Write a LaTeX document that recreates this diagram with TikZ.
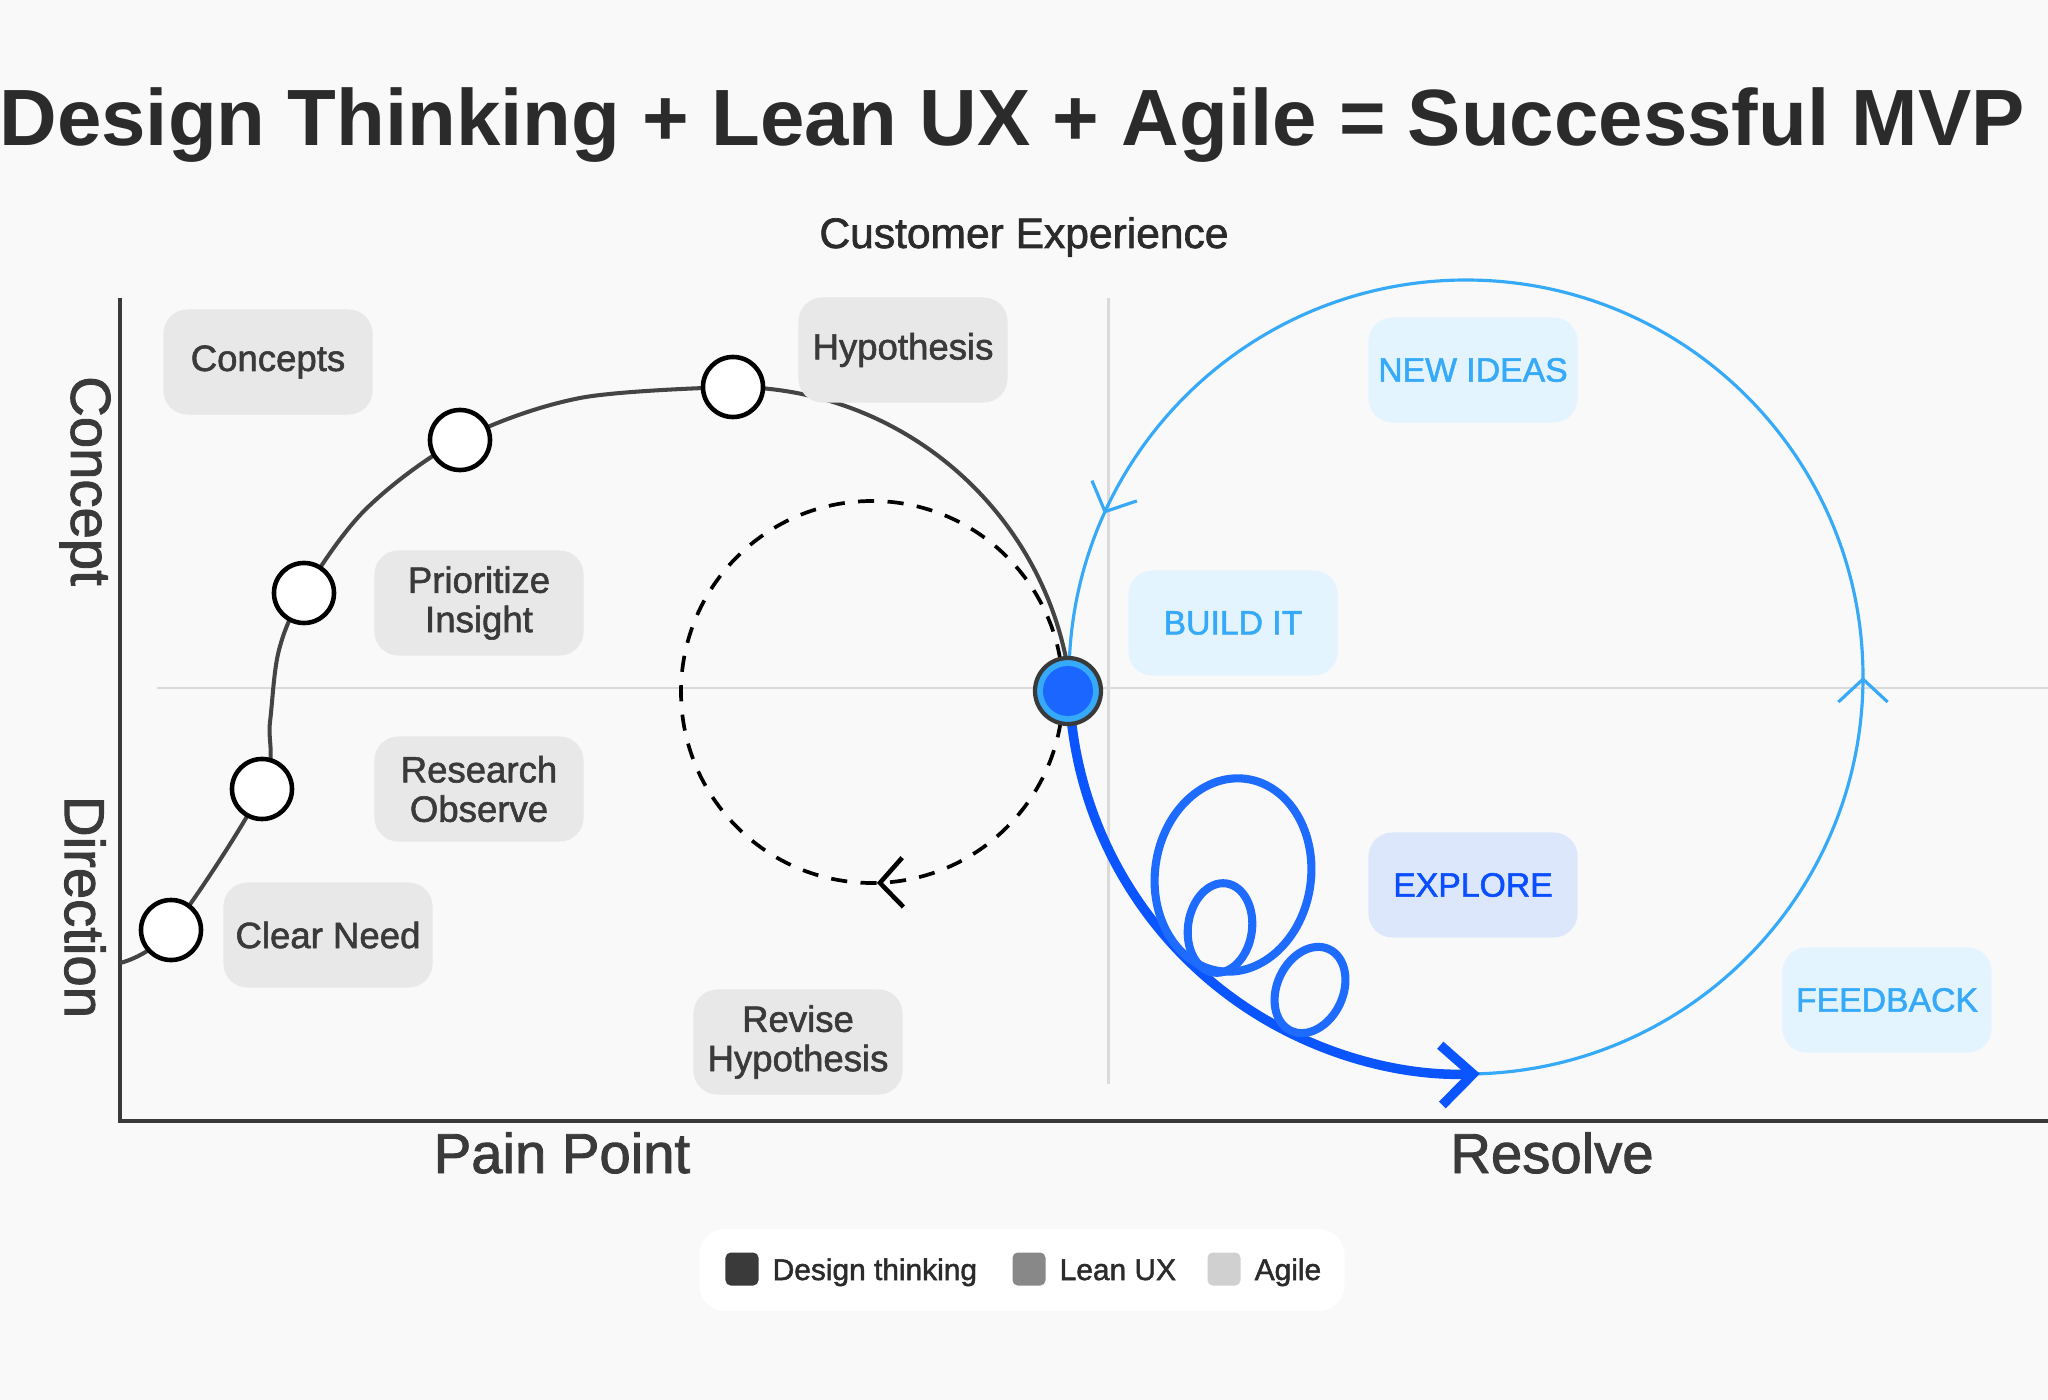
\documentclass[tikz,border=0pt]{standalone}
\usepackage{fontspec}
\setmainfont{Liberation Sans}
\newfontfamily\medfont[FakeBold=1.6]{Liberation Sans}
\usetikzlibrary{arrows.meta,decorations.markings}
\definecolor{pagebg}{HTML}{F9F9F9}
\definecolor{ink}{HTML}{2B2B2B}
\definecolor{inkdark}{HTML}{3A3A3A}
\definecolor{arcgray}{HTML}{444444}
\definecolor{gridgray}{HTML}{DADADA}
\definecolor{cardgray}{HTML}{E8E8E8}
\definecolor{agileblue}{HTML}{36AAF8}
\definecolor{cardblue}{HTML}{E4F4FF}
\definecolor{exploreblue}{HTML}{0A4FFF}
\definecolor{explorefill}{HTML}{DCE7FB}
\definecolor{pathblue}{HTML}{0A55FF}
\definecolor{loopblue}{HTML}{1E6BFF}
\definecolor{hubblue}{HTML}{1A66FF}
\definecolor{leangray}{HTML}{888888}
\definecolor{agilegray}{HTML}{D0D0D0}

\begin{document}
\begin{tikzpicture}[x=0.01cm, y=-0.01cm,
  dtcard/.style={rounded corners=6.8pt, minimum width=2.09cm, minimum height=1.05cm,
                 inner sep=0, align=center, fill=cardgray, text=inkdark,
                 font=\medfont\fontsize{10.4}{11.2}\selectfont},
  agilecard/.style={dtcard, fill=cardblue, text=agileblue, font=\medfont\fontsize{9.6}{11}\selectfont},
  explorebox/.style={agilecard, fill=explorefill, text=exploreblue},
  stepdot/.style={circle, draw=black, line width=1.3pt, fill=white, minimum size=0.6cm, inner sep=0},
  axislabel/.style={font=\medfont\fontsize{16}{18}\selectfont, text=inkdark},
  legendtxt/.style={anchor=base west, inner sep=0, font=\medfont\fontsize{8.5}{10}\selectfont, text=ink},
  swatch/.style={minimum size=0.33cm, inner sep=0, rounded corners=1.5pt},
  gridline/.style={draw=gridgray, line width=0.85pt},
  axisline/.style={draw=inkdark, line width=1.15pt},
  chevron/.tip={Straight Barb[length=6.5pt, width=14pt]},
]
% page and frame
\useasboundingbox (0,0) rectangle (2048,1400);
\fill[pagebg] (0,0) rectangle (2048,1400);

% title and top label
\node[anchor=base, font=\fontsize{22.7}{26}\selectfont\bfseries, text=ink] (title) at (1012,146)
  {Design Thinking + Lean UX + Agile = Successful MVP};
\node[anchor=base, font=\medfont\fontsize{12.1}{14}\selectfont, text=ink] (cx) at (1024,248) {Customer Experience};

% quadrant guides
\coordinate (hl) at (157,688);
\coordinate (hr) at (2048,688);
\coordinate (vt) at (1108,298);
\coordinate (vb) at (1108,1084);
\draw[gridline] (hl) -- (hr);
\draw[gridline] (vt) -- (vb);

% axes
\coordinate (ytop) at (120,298);
\coordinate (origin) at (120,1121);
\coordinate (xend) at (2048,1121);
\draw[axisline] (ytop) -- (origin) -- (xend);
\node[axislabel, rotate=-90] (concept) at (85,481) {Concept};
\node[axislabel, rotate=-90] (direction) at (85,907) {Direction};
\node[axislabel, anchor=base] (pain) at (562,1173) {Pain Point};
\node[axislabel, anchor=base] (resolve) at (1552,1173) {Resolve};

% design thinking path
\coordinate (st0) at (120,963);
\coordinate (st1) at (171,930);
\coordinate (st2) at (262,789);
\coordinate (st3) at (304,593);
\coordinate (st4) at (460,440);
\coordinate (st5) at (733,387);
\coordinate (hubc) at (1068,691);
\draw[arcgray, line width=1.15pt] plot[smooth, tension=0.55] coordinates
  {(st0) (st1) (st2) (270,722) (279,650) (st3) (366,509) (st4) (580,398) (st5)}
  arc[start angle=-90, end angle=-6.4, radius=340];

% lean ux loop
\coordinate (lux) at (872,692);
\draw[black, line width=1.05pt, dash pattern=on 4.6pt off 3.8pt,
      decoration={markings, mark=at position 0.246 with {\arrow[line width=1.3pt]{chevron}}},
      postaction={decorate}]
  ([shift={(0:191)}]lux) arc[start angle=0, end angle=360, radius=191];

% agile loop
\coordinate (agc) at (1466,677);
\draw[agileblue, line width=0.9pt,
      decoration={markings,
        mark=at position 0.5 with {\arrow{chevron}},
        mark=at position 0.9325 with {\arrow{chevron}}},
      postaction={decorate}]
  ([shift={(180:397)}]agc) arc[start angle=180, end angle=-180, radius=397];
\draw[pathblue, line width=2.7pt, line cap=round, -{Straight Barb[length=9pt, width=17pt]}]
  ([shift={(180:397)}]agc) arc[start angle=180, end angle=88, radius=397];

% exploration scribbles
\draw[loopblue, line width=2.3pt, rotate around={-8:(1233,875)}] (1233,875) ellipse[x radius=78, y radius=97];
\draw[loopblue, line width=2.3pt, rotate around={-8:(1220,928)}] (1220,928) ellipse[x radius=32, y radius=45];
\draw[loopblue, line width=2.3pt, rotate around={-25:(1310,990)}] (1310,990) ellipse[x radius=33, y radius=45];

% steps
\foreach \k in {1,...,5} {
  \node[stepdot] (dot\k) at (st\k) {};
}
\node[circle, draw=inkdark, line width=1.2pt, fill=agileblue, minimum size=0.66cm, inner sep=0] (hub) at (hubc) {};
\fill[hubblue] (hub.center) circle (0.25cm);

% design thinking cards
\node[dtcard] (concepts) at (268,362) {Concepts};
\node[dtcard] (hypo) at (903,350) {Hypothesis};
\node[dtcard] (prio) at (479,603) {Prioritize\\Insight};
\node[dtcard] (research) at (479,789) {Research\\Observe};
\node[dtcard] (need) at (328,935) {Clear Need};
\node[dtcard] (revise) at (798,1042) {Revise\\Hypothesis};

% agile cards
\node[agilecard] (ideas) at (1473,370) {NEW IDEAS};
\node[agilecard] (build) at (1233,623) {BUILD IT};
\node[explorebox] (explore) at (1473,885) {EXPLORE};
\node[agilecard] (feedback) at (1887,1000) {FEEDBACK};

% legend
\node[fill=white, rounded corners=7.4pt, minimum width=6.45cm, minimum height=0.82cm] (legend) at (1022,1270) {};
\node[swatch, fill=inkdark] (swdt) at (742,1269) {};
\node[legendtxt] (lgdt) at (772,1280) {Design thinking};
\node[swatch, fill=leangray] (swlux) at (1029,1269) {};
\node[legendtxt] (lglux) at (1059,1280) {Lean UX};
\node[swatch, fill=agilegray] (swag) at (1224,1269) {};
\node[legendtxt] (lgag) at (1254,1280) {Agile};
\end{tikzpicture}
\end{document}
